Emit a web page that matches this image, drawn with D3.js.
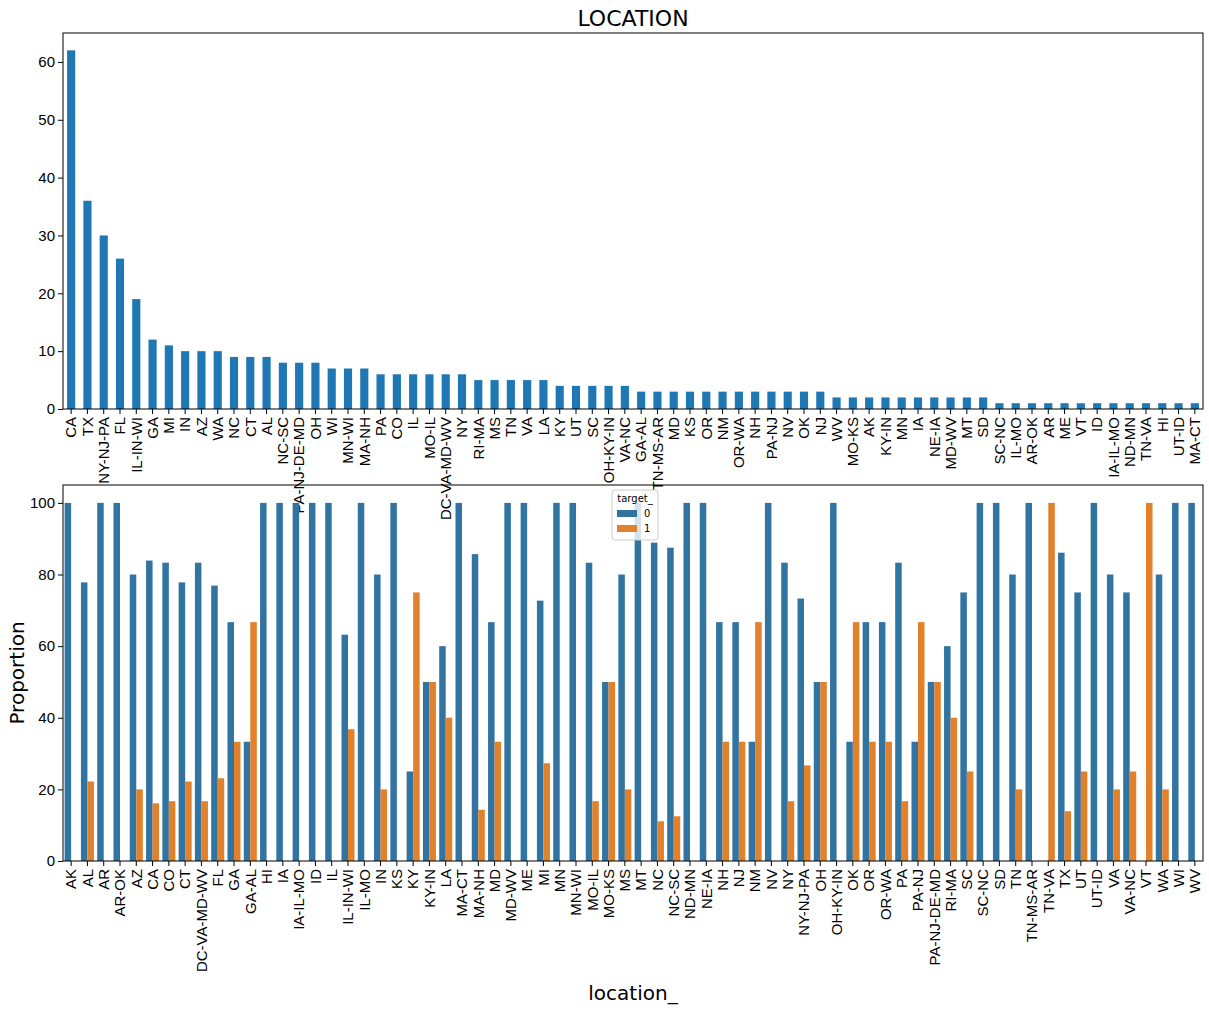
<!DOCTYPE html>
<html><head><meta charset="utf-8">
<script src="https://cdn.jsdelivr.net/npm/d3@7"></script>
<style>body{margin:0;background:#fff;font-family:"DejaVu Sans",sans-serif}</style>
</head><body><svg id="c" width="1209" height="1012"></svg>
<script>
// top chart: counts sorted desc
var topCats = ["CA","TX","NY-NJ-PA","FL","IL-IN-WI","GA","MI","IN","AZ","WA","NC","CT","AL","NC-SC","PA-NJ-DE-MD","OH","WI","MN-WI","MA-NH","PA","CO","IL","MO-IL","DC-VA-MD-WV","NY","RI-MA","MS","TN","VA","LA","KY","UT","SC","OH-KY-IN","VA-NC","GA-AL","TN-MS-AR","MD","KS","OR","NM","OR-WA","NH","PA-NJ","NV","OK","NJ","WV","MO-KS","AK","KY-IN","MN","IA","NE-IA","MD-WV","MT","SD","SC-NC","IL-MO","AR-OK","AR","ME","VT","ID","IA-IL-MO","ND-MN","TN-VA","HI","UT-ID","MA-CT"];
var topCounts = [62,36,30,26,19,12,11,10,10,10,9,9,9,8,8,8,7,7,7,6,6,6,6,6,6,5,5,5,5,5,4,4,4,4,4,3,3,3,3,3,3,3,3,3,3,3,3,2,2,2,2,2,2,2,2,2,2,1,1,1,1,1,1,1,1,1,1,1,1,1];
var topTicks = [0,10,20,30,40,50,60];

// bottom chart: proportions by target_
var botCats = ["AK","AL","AR","AR-OK","AZ","CA","CO","CT","DC-VA-MD-WV","FL","GA","GA-AL","HI","IA","IA-IL-MO","ID","IL","IL-IN-WI","IL-MO","IN","KS","KY","KY-IN","LA","MA-CT","MA-NH","MD","MD-WV","ME","MI","MN","MN-WI","MO-IL","MO-KS","MS","MT","NC","NC-SC","ND-MN","NE-IA","NH","NJ","NM","NV","NY","NY-NJ-PA","OH","OH-KY-IN","OK","OR","OR-WA","PA","PA-NJ","PA-NJ-DE-MD","RI-MA","SC","SC-NC","SD","TN","TN-MS-AR","TN-VA","TX","UT","UT-ID","VA","VA-NC","VT","WA","WI","WV"];
var prop0 = [100,77.8,100,100,80,83.9,83.3,77.8,83.3,76.9,66.7,33.3,100,100,100,100,100,63.2,100,80,100,25,50,60,100,85.7,66.7,100,100,72.7,100,100,83.3,50,80,100,88.9,87.5,100,100,66.7,66.7,33.3,100,83.3,73.3,50,100,33.3,66.7,66.7,83.3,33.3,50,60,75,100,100,80,100,null,86.1,75,100,80,75,null,80,100,100];
var prop1 = [null,22.2,null,null,20,16.1,16.7,22.2,16.7,23.1,33.3,66.7,null,null,null,null,null,36.8,null,20,null,75,50,40,null,14.3,33.3,null,null,27.3,null,null,16.7,50,20,null,11.1,12.5,null,null,33.3,33.3,66.7,null,16.7,26.7,50,null,66.7,33.3,33.3,16.7,66.7,50,40,25,null,null,20,null,100,13.9,25,null,20,25,100,20,null,null];
var botTicks = [0,20,40,60,80,100];

var svg = d3.select("#c");
var L = 63, R = 1203;

function frame(g, y, h) {
  g.append("rect").attr("x", L).attr("y", y).attr("width", R - L).attr("height", h)
    .attr("fill", "none").attr("stroke", "#000").attr("stroke-width", 1);
}
function styleAxes(ax) {
  ax.selectAll("text").attr("font-size", 15).attr("fill", "#000");
  ax.select(".domain").remove();
}

// ---- top
var t0 = 33, t1 = 409;
var xt = d3.scaleBand().domain(topCats).range([L, R]).paddingInner(0.5).paddingOuter(0.25);
var yt = d3.scaleLinear().domain([0, 65]).range([t1, t0]);
svg.append("text").attr("x", (L + R) / 2).attr("y", 26).attr("text-anchor", "middle")
  .attr("font-size", 22).text("LOCATION");
svg.selectAll(".tb").data(topCats).enter().append("rect")
  .attr("x", function(d) { return xt(d); })
  .attr("width", xt.bandwidth())
  .attr("y", function(d, i) { return yt(topCounts[i]); })
  .attr("height", function(d, i) { return t1 - yt(topCounts[i]); })
  .attr("fill", "#1f77b4");
var ay = svg.append("g").attr("transform", "translate(" + L + ",0)").call(d3.axisLeft(yt).tickValues(topTicks).tickSize(5));
styleAxes(ay);
var ax = svg.append("g").attr("transform", "translate(0," + t1 + ")").call(d3.axisBottom(xt).tickSize(5));
styleAxes(ax);
ax.selectAll("text").attr("transform", "rotate(-90)").attr("text-anchor", "end")
  .attr("x", -8).attr("y", 0).attr("dy", "0.35em");
frame(svg, t0, t1 - t0);

// ---- bottom
var b0 = 485, b1 = 861;
var xb = d3.scaleBand().domain(botCats).range([L, R]).paddingInner(0.2).paddingOuter(0.1);
var yb = d3.scaleLinear().domain([0, 105]).range([b1, b0]);
var hue = d3.scaleBand().domain(["0", "1"]).range([0, xb.bandwidth()]);
var cols = {"0": "#3274a1", "1": "#e1812c"};
[["0", prop0], ["1", prop1]].forEach(function(s) {
  svg.selectAll(".bb" + s[0]).data(botCats).enter()
    .filter(function(d, i) { return s[1][i] != null; })
    .append("rect")
    .attr("x", function(d) { return xb(d) + hue(s[0]); })
    .attr("width", hue.bandwidth())
    .attr("y", function(d) { return yb(s[1][botCats.indexOf(d)]); })
    .attr("height", function(d) { return b1 - yb(s[1][botCats.indexOf(d)]); })
    .attr("fill", cols[s[0]]);
});
var by = svg.append("g").attr("transform", "translate(" + L + ",0)").call(d3.axisLeft(yb).tickValues(botTicks).tickSize(5));
styleAxes(by);
var bx = svg.append("g").attr("transform", "translate(0," + b1 + ")").call(d3.axisBottom(xb).tickSize(5));
styleAxes(bx);
bx.selectAll("text").attr("transform", "rotate(-90)").attr("text-anchor", "end")
  .attr("x", -8).attr("y", 0).attr("dy", "0.35em");
frame(svg, b0, b1 - b0);
svg.append("text").attr("transform", "translate(24," + (b0 + b1) / 2 + ") rotate(-90)")
  .attr("text-anchor", "middle").attr("font-size", 20).text("Proportion");
svg.append("text").attr("x", (L + R) / 2).attr("y", 1000).attr("text-anchor", "middle")
  .attr("font-size", 20).text("location_");

// legend
var lg = svg.append("g").attr("transform", "translate(612,490)");
lg.append("rect").attr("width", 46).attr("height", 50).attr("rx", 3)
  .attr("fill", "#fff").attr("fill-opacity", 0.8).attr("stroke", "#ccc");
lg.append("text").attr("x", 23).attr("y", 12).attr("text-anchor", "middle").attr("font-size", 10).text("target_");
["0", "1"].forEach(function(k, i) {
  lg.append("rect").attr("x", 5).attr("y", 20 + i * 15).attr("width", 20).attr("height", 7).attr("fill", cols[k]);
  lg.append("text").attr("x", 32).attr("y", 27 + i * 15).attr("font-size", 10).text(k);
});
</script></body></html>
